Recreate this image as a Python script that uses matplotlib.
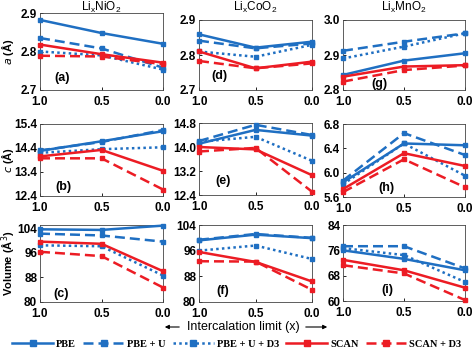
import matplotlib
matplotlib.use("Agg")
import matplotlib.pyplot as plt
from matplotlib.lines import Line2D
from matplotlib.patches import FancyArrowPatch

plt.rcParams['font.family'] = ['Liberation Sans', 'DejaVu Sans']

x = [1.0, 0.5, 0.0]
methods = ["PBE", "PBE + U", "PBE + U + D3", "SCAN", "SCAN + D3"]
titles = ["Li$_\\mathregular{x}$NiO$_\\mathregular{2}$", "Li$_\\mathregular{x}$CoO$_\\mathregular{2}$", "Li$_\\mathregular{x}$MnO$_\\mathregular{2}$"]
xticks = [1.0, 0.5, 0.0]
xticklabels = ["1.0", "0.5", "0.0"]

# a lattice parameter (Å)
a_Ni = {"PBE": [2.882, 2.848, 2.820], "PBE + U": [2.835, 2.808, 2.758],
        "PBE + U + D3": [2.800, 2.790, 2.753], "SCAN": [2.818, 2.793, 2.771],
        "SCAN + D3": [2.789, 2.787, 2.767]}
a_Co = {"PBE": [2.859, 2.821, 2.838], "PBE + U": [2.841, 2.819, 2.833],
        "PBE + U + D3": [2.810, 2.795, 2.829], "SCAN": [2.810, 2.762, 2.781],
        "SCAN + D3": [2.783, 2.762, 2.776]}
a_Mn = {"PBE": [2.843, 2.884, 2.905], "PBE + U": [2.912, 2.938, 2.962],
        "PBE + U + D3": [2.890, 2.924, 2.962], "SCAN": [2.838, 2.867, 2.871],
        "SCAN + D3": [2.824, 2.857, 2.870]}
# c lattice parameter (Å)
c_Ni = {"PBE": [14.28, 14.68, 15.10], "PBE + U": [14.30, 14.65, 15.15],
        "PBE + U + D3": [14.20, 14.35, 14.43], "SCAN": [14.05, 14.32, 13.45],
        "SCAN + D3": [13.97, 13.97, 12.67]}
c_Co = {"PBE": [14.11, 14.57, 14.38], "PBE + U": [14.20, 14.74, 14.40],
        "PBE + U + D3": [14.17, 14.34, 13.54], "SCAN": [14.00, 13.92, 13.06],
        "SCAN + D3": [13.85, 13.97, 12.51]}
c_Mn = {"PBE": [5.84, 6.48, 6.45], "PBE + U": [5.87, 6.65, 6.29],
        "PBE + U + D3": [5.81, 6.48, 5.95], "SCAN": [5.73, 6.32, 6.11],
        "SCAN + D3": [5.68, 6.22, 5.76]}
# Volume (Å^3)
V_Ni = {"PBE": [103.6, 103.4, 104.8], "PBE + U": [102.2, 101.6, 99.6],
        "PBE + U + D3": [98.4, 98.1, 88.6], "SCAN": [99.6, 98.9, 90.0],
        "SCAN + D3": [96.3, 94.9, 84.7]}
V_Co = {"PBE": [99.2, 101.0, 99.9], "PBE + U": [99.4, 101.2, 100.0],
        "PBE + U + D3": [96.0, 97.6, 93.4], "SCAN": [95.6, 92.5, 86.4],
        "SCAN + D3": [92.7, 92.6, 83.8]}
V_Mn = {"PBE": [76.0, 73.3, 69.7], "PBE + U": [77.3, 77.3, 70.3],
        "PBE + U + D3": [76.7, 74.5, 66.0], "SCAN": [73.0, 69.7, 64.2],
        "SCAN + D3": [71.3, 68.7, 60.3]}

panel_data = [[a_Ni, a_Co, a_Mn], [c_Ni, c_Co, c_Mn], [V_Ni, V_Co, V_Mn]]
panel_labels = [["(a)", "(d)", "(g)"], ["(b)", "(e)", "(h)"], ["(c)", "(f)", "(i)"]]
ylims = [[(2.7, 2.9), (2.7, 2.9), (2.8, 3.0)],
         [(12.4, 15.4), (12.4, 14.8), (5.6, 6.8)],
         [(80, 105), (80, 104), (60, 84)]]
yticks = [[[2.7, 2.8, 2.9], [2.7, 2.8, 2.9], [2.8, 2.9, 3.0]],
          [[12.4, 13.4, 14.4, 15.4], [12.4, 13.2, 14.0, 14.8], [5.6, 6.0, 6.4, 6.8]],
          [[80, 88, 96, 104], [80, 88, 96, 104], [60, 68, 76, 84]]]
yfmt = [["%.1f", "%.1f", "%.1f"], ["%.1f", "%.1f", "%.1f"], ["%d", "%d", "%d"]]
ylabels = ["$\\it{a}$ (Å)", "$\\it{c}$ (Å)", "Volume (Å$^3$)"]

BLUE = "#1f6fc2"
RED = "#ec1c24"
styles = {
    "PBE": dict(color=BLUE, ls="-"),
    "PBE + U": dict(color=BLUE, ls=(0, (4, 2))),
    "PBE + U + D3": dict(color=BLUE, ls=(0, (1, 1.3))),
    "SCAN": dict(color=RED, ls="-"),
    "SCAN + D3": dict(color=RED, ls=(0, (4, 2))),
}

W, H = 474, 351
fig = plt.figure(figsize=(W / 100, H / 100), dpi=100)

cols = [(40, 163), (199, 312), (343, 465)]
rows = [[(13, 90), (20, 90), (20, 90)],
        [(124, 196), (123, 195), (124, 197)],
        [(225, 302), (225, 302), (225, 301)]]
label_pos = [[(0.18, 0.16), (0.18, 0.2), (0.30, 0.08)],
             [(0.19, 0.12), (0.21, 0.19), (0.36, 0.13)],
             [(0.17, 0.11), (0.21, 0.14), (0.36, 0.14)]]
ylabel_x = [8, 8, 9]

for r in range(3):
    for c in range(3):
        x0, x1 = cols[c]
        top, bot = rows[r][c]
        ax = fig.add_axes([x0 / W, 1 - bot / H, (x1 - x0) / W, (bot - top) / H])
        d = panel_data[r][c]
        for m in methods:
            st = styles[m]
            ax.plot(x, d[m], color=st["color"], ls=st["ls"], lw=1.8,
                    marker="s", ms=3.5, clip_on=False, zorder=3)
        ax.set_xlim(1.0, 0.0)
        ax.set_ylim(*ylims[r][c])
        ax.set_xticks(xticks)
        ax.set_xticklabels(xticklabels)
        ax.set_yticks(yticks[r][c])
        ax.set_yticklabels([yfmt[r][c] % v for v in yticks[r][c]])
        ax.tick_params(direction="in", length=2.5, width=0.6, labelsize=8.5)
        ax.tick_params(axis="x", pad=4)
        ax.tick_params(axis="y", pad=2)
        for lab in ax.get_xticklabels() + ax.get_yticklabels():
            lab.set_fontweight("bold")
        for sp in ax.spines.values():
            sp.set_linewidth(0.6)
            sp.set_color("#444444")
        lx, ly = label_pos[r][c]
        ax.text(lx, ly, panel_labels[r][c], transform=ax.transAxes, ha="center",
                va="center", fontsize=9, fontweight="bold")
        if r == 0:
            fig.text((x0 + x1) / 2 / W, 1 - 7 / H, titles[c], ha="center",
                     va="center", fontsize=8.5)
    top, bot = rows[r][0]
    fig.text(ylabel_x[r] / W, 1 - (top + bot) / 2 / H, ylabels[r], rotation=90,
             ha="center", va="center", fontsize=8, fontweight="bold")

# x-axis label with arrows
yl = 1 - 327 / H
fig.text(243 / W, yl, "Intercalation limit (x)", ha="center", va="center", fontsize=9)
fig.add_artist(FancyArrowPatch((182 / W, yl), (162 / W, yl), transform=fig.transFigure,
                               arrowstyle="-|>", mutation_scale=6, lw=0.8, color="black"))
fig.add_artist(FancyArrowPatch((303 / W, yl), (330 / W, yl), transform=fig.transFigure,
                               arrowstyle="-|>", mutation_scale=6, lw=0.8, color="black"))

handles = [Line2D([], [], color=styles[m]["color"], ls=styles[m]["ls"], lw=1.8,
                  marker="s", ms=5) for m in methods]
fig.legend(handles, methods, loc="center", bbox_to_anchor=(0.5, 1 - 344 / H), ncol=5,
           frameon=False, handlelength=3.9, handletextpad=0.3, columnspacing=0.7,
           numpoints=1, prop=dict(family="Liberation Serif", weight="bold", size=7.5),
           borderaxespad=0, borderpad=0)

fig.savefig("out.png", dpi=100)
